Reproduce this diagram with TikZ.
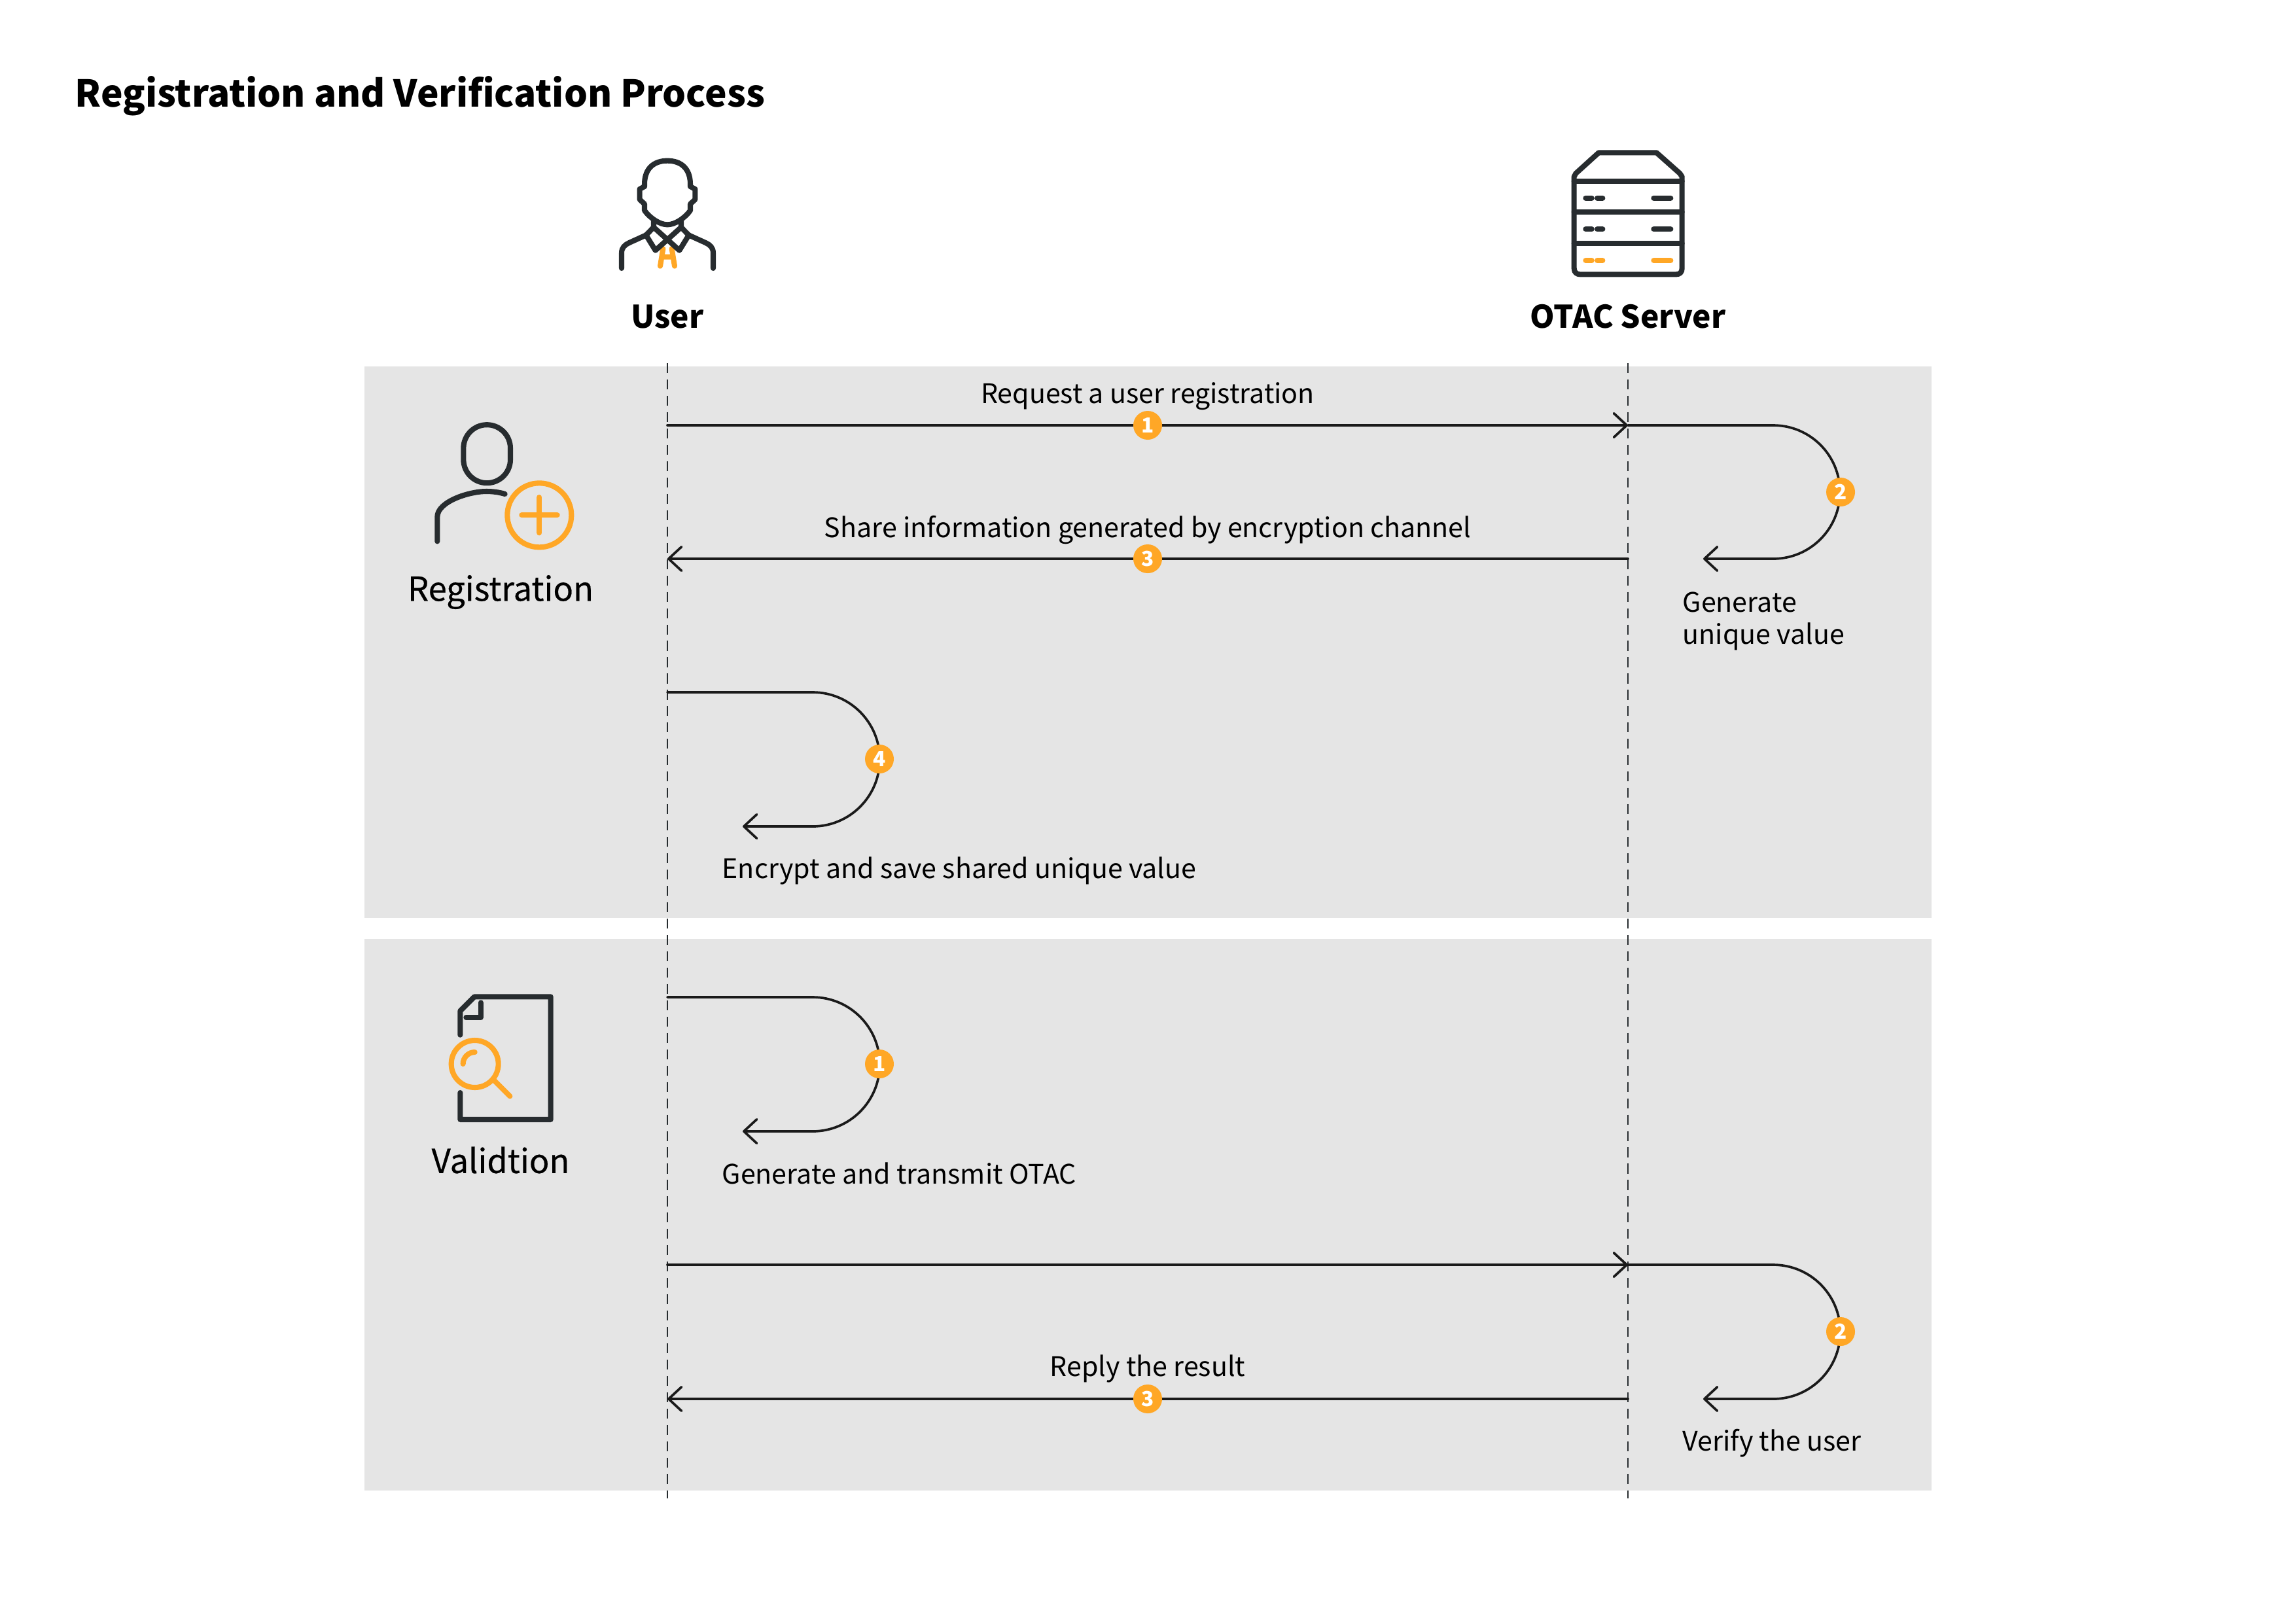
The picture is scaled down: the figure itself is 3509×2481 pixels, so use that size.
\documentclass[tikz,border=0pt]{standalone}
\usepackage{fontspec}
\setmainfont{Noto Sans CJK KR}
\newfontfamily\medFont{Noto Sans CJK KR}[FakeBold=0.4]
\usetikzlibrary{arrows.meta}

\definecolor{panelGray}{HTML}{E5E5E5}
\definecolor{iconDark}{HTML}{272C2F}
\definecolor{iconOrange}{HTML}{FFA726}
\definecolor{flowBlack}{HTML}{1A1A1A}

\begin{document}
\begin{tikzpicture}[
    x=0.01cm,
    y=-0.01cm,
    panel/.style={%
      fill=panelGray,
      draw=none,
    },
    life/.style={%
      draw=iconDark,
      line width=0.55pt,
      dash pattern=on 4.3pt off 2.8pt,
    },
    flow/.style={%
      draw=flowBlack,
      line width=1.05pt,
      line cap=round,
      -{Straight Barb[length=5.6pt,width=10.4pt,line width=1.05pt,round]},
    },
    badge/.style={%
      circle,
      fill=iconOrange,
      text=white,
      inner sep=0pt,
      minimum size=0.44cm,
      font=\fontsize{9pt}{9pt}\selectfont\bfseries,
    },
    label/.style={%
      inner sep=0pt,
      font=\fontsize{11.7pt}{14pt}\selectfont,
    },
    head/.style={%
      inner sep=0pt,
      font=\fontsize{13.6pt}{14pt}\selectfont\bfseries,
    },
    sect/.style={%
      inner sep=0pt,
      font=\medFont\fontsize{14.4pt}{14pt}\selectfont,
    },
    ink/.style={%
      draw=iconDark,
      line width=2.3pt,
      line cap=round,
      line join=round,
    },
    inkO/.style={%
      ink,
      draw=iconOrange,
    },
  ]
    \useasboundingbox (0,0) rectangle (3509,2481);

    \node [inner sep=0pt,anchor=west,font=\fontsize{16.1pt}{18pt}\selectfont\bfseries] (title) at (114,147) {Registration and Verification Process};

    \path [panel] (557,560) rectangle (2952,1403);
    \path [panel] (557,1435) rectangle (2952,2278);

    % user icon
    \begin{scope}[shift={(900,210)},scale=1/3]
      \draw [inkO] (340,510) -- (327,590) (380,510) -- (393,590) (340,548) -- (380,548);
      \draw [ink] (255,215) .. controls (255,140) and (300,107) .. (360,107) .. controls (420,107) and (465,140) .. (465,215)
        -- (465,225) -- (487,237) -- (487,285) -- (465,305) -- (465,335)
        .. controls (440,370) and (395,400) .. (360,400) .. controls (325,400) and (280,370) .. (255,335)
        -- (255,305) -- (233,285) -- (233,237) -- (255,225) -- cycle;
      \draw [ink] (297,385) -- (297,412) -- (415,518) -- (458,448) -- (423,412) -- (423,385);
      \draw [ink] (423,412) -- (305,518) -- (262,448) -- (297,412);
      \draw [ink] (262,448) -- (185,483) .. controls (165,492) and (150,505) .. (150,530) -- (150,600);
      \draw [ink] (458,448) -- (535,483) .. controls (555,492) and (570,505) .. (570,530) -- (570,600);
    \end{scope}

    % server icon
    \begin{scope}[shift={(2360,210)},scale=1/3]
      \draw [ink] (137,600) -- (137,180) -- (145,165) -- (250,70) -- (515,70) -- (622,165) -- (632,180) -- (632,600)
        .. controls (632,620) and (620,628) .. (605,628) -- (165,628) .. controls (150,628) and (137,620) .. (137,600) -- cycle;
      \draw [ink] (137,200) -- (632,200) (137,343) -- (632,343) (137,486) -- (632,486);
      \foreach \rowY in {278,421} {
        \draw [ink] (190,\rowY) -- (218,\rowY) (243,\rowY) -- (268,\rowY) (502,\rowY) -- (580,\rowY);
      }
      \draw [inkO] (190,565) -- (218,565) (243,565) -- (268,565) (502,565) -- (580,565);
    \end{scope}

    % registration icon
    \begin{scope}[shift={(640,620)},scale=1/3]
      \draw [ink] (205,195) arc (180:360:107.5) -- (420,247) arc (0:180:107.5) -- cycle;
      \draw [ink] (85,622) -- (85,510) .. controls (85,440) and (230,393) .. (310,393) .. controls (340,393) and (370,397) .. (395,405);
      \draw [inkO] (553,502) circle (147);
      \draw [inkO] (553,420) -- (553,583) (472,502) -- (635,502);
    \end{scope}

    % validation icon
    \begin{scope}[shift={(660,1490)},scale=1/3]
      \draw [ink] (130,275) -- (130,165) -- (195,100) -- (545,100) -- (545,663) -- (130,663) -- (130,540);
      \draw [ink] (224,127) -- (224,195) -- (157,195);
      \draw [inkO] (197,408) circle (108);
      \draw [inkO] (287,485) -- (358,556);
      \draw [inkO] (143,408) arc (180:270:54);
    \end{scope}

    \node [head] (user) at (1020,484) {User};
    \node [head] (server) at (2488,484) {OTAC Server};
    \node [sect] (reg) at (765,905) {Registration};
    \node [sect] (val) at (765,1773) {Validtion};

    \coordinate (userTop) at (1020,555);
    \coordinate (userEnd) at (1020,2290);
    \coordinate (serverTop) at (2488,555);
    \coordinate (serverEnd) at (2488,2290);
    \draw [life] (userTop) -- (userEnd);
    \draw [life] (serverTop) -- (serverEnd);

    \coordinate (A1) at (1020,650);
    \coordinate (B1) at (2488,650);
    \coordinate (A3) at (1020,854);
    \coordinate (B3) at (2488,854);
    \coordinate (C2) at (2603,854);
    \coordinate (A4) at (1020,1058);
    \coordinate (C4) at (1135,1263);
    \coordinate (D1) at (1020,1524);
    \coordinate (E1) at (1135,1729);
    \coordinate (F1) at (1020,1933);
    \coordinate (G1) at (2488,1933);
    \coordinate (F3) at (1020,2138);
    \coordinate (G3) at (2488,2138);
    \coordinate (H2) at (2603,2138);

    \draw [flow] (A1) -- (B1);
    \draw [flow] (B1) -- ++(222,0) arc (-90:90:102) -- (C2);
    \draw [flow] (B3) -- (A3);
    \draw [flow] (A4) -- ++(222,0) arc (-90:90:102.5) -- (C4);
    \draw [flow] (D1) -- ++(222,0) arc (-90:90:102.5) -- (E1);
    \draw [flow] (F1) -- (G1);
    \draw [flow] (G1) -- ++(222,0) arc (-90:90:102.5) -- (H2);
    \draw [flow] (G3) -- (F3);

    \node [badge] (r1) at (1754,650) {1};
    \node [badge] (r2) at (2813,752) {2};
    \node [badge] (r3) at (1754,854) {3};
    \node [badge] (r4) at (1344,1160) {4};
    \node [badge] (v1) at (1344,1626) {1};
    \node [badge] (v2) at (2813,2035) {2};
    \node [badge] (v3) at (1754,2138) {3};

    \node [label] (t1) at (1754,606) {Request a user registration};
    \node [label] (t3) at (1754,810) {Share information generated by encryption channel};
    \node [label,anchor=west,align=left] (t2) at (2571,949) {Generate\\unique value};
    \node [label,anchor=west] (t4) at (1103,1331) {Encrypt and save shared unique value};
    \node [label,anchor=west] (t5) at (1103,1793) {Generate and transmit OTAC};
    \node [label] (t6) at (1754,2092) {Reply the result};
    \node [label,anchor=west] (t7) at (2571,2206) {Verify the user};
\end{tikzpicture}
\end{document}
